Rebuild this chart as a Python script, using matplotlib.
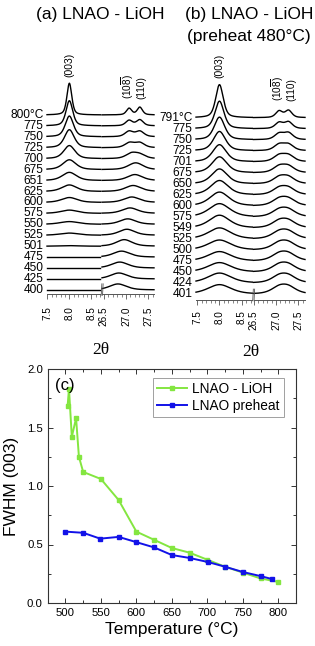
import numpy as np
import matplotlib
matplotlib.use("Agg")
import matplotlib.pyplot as plt
from matplotlib.ticker import MultipleLocator, FormatStrFormatter

plt.rcParams['font.family'] = ['Liberation Sans', 'DejaVu Sans']
plt.rcParams['mathtext.fontset'] = 'custom'
plt.rcParams['mathtext.rm'] = 'Liberation Sans'
plt.rcParams['mathtext.it'] = 'Liberation Sans:italic'
plt.rcParams['mathtext.bf'] = 'Liberation Sans:bold'

# ---------------- data: panel (a) LNAO - LiOH ----------------
temps_a = [400, 425, 450, 475, 501, 525, 550, 575, 600, 625, 651, 675, 700, 725, 750, 775, 800]
h003_a = [0, 0, 0, 0, 0.05, 0.2, 0.25, 0.3, 0.45, 0.6, 0.75, 0.9, 1.2, 1.65, 1.9, 2.3, 2.9]
w003_a = [0.5, 0.5, 0.5, 0.5, 0.5, 0.5, 0.5, 0.45, 0.42, 0.4, 0.38, 0.35, 0.3, 0.26, 0.22, 0.18, 0.13]
r1pos_a = [26.82, 26.84, 26.86, 26.9, 26.96, 27.02, 27.04, 27.09, 27.13, 27.16, 27.2, 27.2, 27.12, 27.08, 27.07, 27.07, 27.07]
r1h_a = [0.55, 0.55, 0.55, 0.55, 0.6, 0.55, 0.5, 0.5, 0.5, 0.55, 0.55, 0.55, 0.45, 0.45, 0.5, 0.5, 0.6]
r1w_a = [0.45, 0.45, 0.45, 0.45, 0.42, 0.42, 0.42, 0.42, 0.42, 0.42, 0.4, 0.38, 0.3, 0.25, 0.22, 0.18, 0.14]
r2h_a = [0, 0, 0, 0, 0, 0, 0, 0, 0, 0, 0, 0.1, 0.35, 0.45, 0.5, 0.55, 0.7]
r2w_a = [0.2, 0.2, 0.2, 0.2, 0.2, 0.2, 0.2, 0.2, 0.2, 0.2, 0.2, 0.3, 0.3, 0.25, 0.22, 0.18, 0.14]

# ---------------- data: panel (b) preheat 480 C ----------------
temps_b = [401, 424, 450, 475, 500, 525, 549, 575, 600, 625, 650, 675, 701, 725, 750, 775, 791]
h003_b = [0.85, 0.9, 0.85, 0.85, 0.9, 1.0, 1.15, 1.2, 1.25, 1.3, 1.35, 1.45, 1.55, 1.75, 2.05, 2.5, 3.0]
w003_b = [0.62, 0.62, 0.62, 0.61, 0.61, 0.59, 0.55, 0.56, 0.51, 0.47, 0.42, 0.4, 0.36, 0.32, 0.28, 0.24, 0.2]
r1h_b = [0.55, 0.55, 0.55, 0.55, 0.55, 0.55, 0.55, 0.55, 0.55, 0.55, 0.55, 0.55, 0.55, 0.55, 0.55, 0.55, 0.6]
r2h_b = [0.55, 0.55, 0.55, 0.55, 0.55, 0.55, 0.55, 0.55, 0.55, 0.55, 0.55, 0.55, 0.55, 0.55, 0.6, 0.6, 0.65]
rw_b = [0.42, 0.42, 0.42, 0.42, 0.42, 0.42, 0.4, 0.4, 0.38, 0.36, 0.34, 0.32, 0.3, 0.27, 0.24, 0.21, 0.18]
r1pos_b = 27.07
r2pos_b = 27.28
r2pos_a = 27.31
pos003 = 8.0

# ---------------- data: panel (c) FWHM ----------------
T_lioh = [503, 505, 509, 515, 519, 525, 550, 575, 600, 625, 650, 675, 700, 725, 750, 775, 800]
fwhm_lioh = [1.68, 1.83, 1.42, 1.58, 1.25, 1.12, 1.06, 0.88, 0.61, 0.54, 0.47, 0.43, 0.37, 0.31, 0.26, 0.21, 0.18]
T_pre = [500, 525, 549, 575, 600, 625, 650, 675, 701, 725, 750, 775, 791]
fwhm_pre = [0.61, 0.60, 0.55, 0.565, 0.52, 0.475, 0.41, 0.385, 0.35, 0.31, 0.265, 0.23, 0.205]


def pv(x, x0, h, w, eta=0.5):
    d = (x - x0) / w
    return h * (eta / (1 + 4 * d ** 2) + (1 - eta) * np.exp(-4 * np.log(2) * d ** 2))


W, H = 315, 646
fig = plt.figure(figsize=(W / 100, H / 100), dpi=100)


def rect(x0, x1, ytop, ybot):
    return [x0 / W, 1 - ybot / H, (x1 - x0) / W, (ybot - ytop) / H]


def style_xrd(ax, xlim, pad):
    ax.set_xlim(*xlim)
    for s in ['top', 'right', 'left']:
        ax.spines[s].set_visible(False)
    ax.spines['bottom'].set_color('#555555')
    ax.spines['bottom'].set_linewidth(0.7)
    ax.set_yticks([])
    ax.xaxis.set_major_locator(MultipleLocator(0.5))
    ax.xaxis.set_minor_locator(MultipleLocator(0.1))
    ax.xaxis.set_major_formatter(FormatStrFormatter('%.1f'))
    ax.tick_params(axis='x', which='major', direction='out', length=3.5, width=0.6,
                   color='#555555', labelsize=7.2, labelrotation=90, pad=pad)
    ax.tick_params(axis='x', which='minor', direction='out', length=2, width=0.5, color='#555555')
    ax.patch.set_alpha(0)


def draw_panel(axL, axR, temps, h003, w003, right_fn, ylim, label_suffix):
    xl = np.linspace(*axL.get_xlim(), 300)
    xr = np.linspace(*axR.get_xlim(), 300)
    for i, t in enumerate(temps):
        yl = i + pv(xl, pos003, h003[i], w003[i])
        yr = i + right_fn(xr, i)
        axL.plot(xl, yl, color='black', lw=1.0, clip_on=False)
        axR.plot(xr, yr, color='black', lw=1.0, clip_on=False)
        lab = f"{t}{label_suffix}" if i == len(temps) - 1 else f"{t}"
        axL.annotate(lab, xy=(0, i), xycoords=('axes fraction', 'data'),
                     xytext=(-2.5, 0), textcoords='offset points',
                     ha='right', va='center', fontsize=8.6)
    axL.set_ylim(*ylim)
    axR.set_ylim(*ylim)
    n = len(temps) - 1
    top = n + h003[n]
    axL.text(pos003, top + 0.6, '(003)', rotation=90, ha='center', va='bottom', fontsize=7.5)


# ---- panel (a) ----
axaL = fig.add_axes(rect(47, 100.5, 40, 294))
axaR = fig.add_axes(rect(102, 154, 40, 294))
style_xrd(axaL, (7.493, 8.706), 5.5)
style_xrd(axaR, (26.462, 27.628), 5.5)


def right_a(x, i):
    return pv(x, r1pos_a[i], r1h_a[i], r1w_a[i]) + pv(x, r2pos_a, r2h_a[i], r2w_a[i])


draw_panel(axaL, axaR, temps_a, h003_a, w003_a, right_a, (-0.37, 22.85), '°C')
na = len(temps_a) - 1
axaR.text(r1pos_a[na] - 0.02, na + 1.5, r'(10$\overline{\mathrm{8}}$)', rotation=90, ha='center', va='bottom', fontsize=7.2)
axaR.text(r2pos_a + 0.04, na + 1.5, '(110)', rotation=90, ha='center', va='bottom', fontsize=7.2)

# ---- panel (b) ----
axbL = fig.add_axes(rect(196, 252.3, 40, 299.5))
axbR = fig.add_axes(rect(253.5, 305, 40, 299.5))
style_xrd(axbL, (7.471, 8.74), 4.5)
style_xrd(axbR, (26.495, 27.65), 4.5)


def right_b(x, i):
    return pv(x, r1pos_b, r1h_b[i], rw_b[i]) + pv(x, r2pos_b, r2h_b[i], rw_b[i])


draw_panel(axbL, axbR, temps_b, h003_b, w003_b, right_b, (-0.5, 23.05), '°C')
nb = len(temps_b) - 1
axbR.text(r1pos_b - 0.02, nb + 1.55, r'(10$\overline{\mathrm{8}}$)', rotation=90, ha='center', va='bottom', fontsize=7.2)
axbR.text(r2pos_b + 0.07, nb + 1.55, '(110)', rotation=90, ha='center', va='bottom', fontsize=7.2)

# break marks on the axes
for ax in (axaR, axbR):
    for dx in (-0.015, 0.01):
        ax.plot([dx, dx + 0.012], [-0.005, 0.04], transform=ax.transAxes,
                color='#555555', lw=0.6, clip_on=False)

# titles and x labels
fig.text(100 / W, 1 - 15 / H, '(a) LNAO - LiOH', ha='center', va='center', fontsize=12.5)
fig.text(249 / W, 1 - 15 / H, '(b) LNAO - LiOH', ha='center', va='center', fontsize=12.5)
fig.text(249 / W, 1 - 36 / H, '(preheat 480°C)', ha='center', va='center', fontsize=12.5)
fig.text(101 / W, 1 - 350 / H, '2θ', ha='center', va='center', fontsize=12.5, family='Liberation Serif')
fig.text(251 / W, 1 - 352 / H, '2θ', ha='center', va='center', fontsize=12.5, family='Liberation Serif')

# ---- panel (c) ----
axc = fig.add_axes(rect(47.7, 296, 369, 603))
green = '#84E640'
blue = '#1212E8'
axc.plot(T_lioh, fwhm_lioh, color=green, marker='s', ms=3.2, lw=1.4, label='LNAO - LiOH')
axc.plot(T_pre, fwhm_pre, color=blue, marker='s', ms=3.2, lw=1.4, label='LNAO preheat')
axc.set_xlim(475, 825)
axc.set_ylim(0, 2.0)
axc.xaxis.set_major_locator(MultipleLocator(50))
axc.xaxis.set_minor_locator(MultipleLocator(25))
axc.yaxis.set_major_locator(MultipleLocator(0.5))
axc.yaxis.set_minor_locator(MultipleLocator(0.25))
axc.yaxis.set_major_formatter(FormatStrFormatter('%.1f'))
axc.tick_params(which='both', direction='in', top=True, right=True, color='#333333', width=0.7)
axc.tick_params(which='major', length=3.5, labelsize=8.2)
axc.tick_params(which='minor', length=2)
for s in axc.spines.values():
    s.set_color('#333333')
    s.set_linewidth(0.8)
axc.set_xlabel('Temperature (°C)', fontsize=12.5, labelpad=3)
axc.set_ylabel('FWHM (003)', fontsize=12.5, labelpad=6)
axc.text(0.03, 0.93, '(c)', transform=axc.transAxes, fontsize=12, ha='left', va='center')
leg = axc.legend(loc='upper left', bbox_to_anchor=(0.424, 0.962), borderaxespad=0,
                 fontsize=9.8, frameon=True, fancybox=False, handlelength=2.2,
                 handletextpad=0.4, borderpad=0.3, labelspacing=0.2)
leg.get_frame().set_edgecolor('#888888')
leg.get_frame().set_linewidth(0.7)

fig.savefig('out.png', dpi=100)
